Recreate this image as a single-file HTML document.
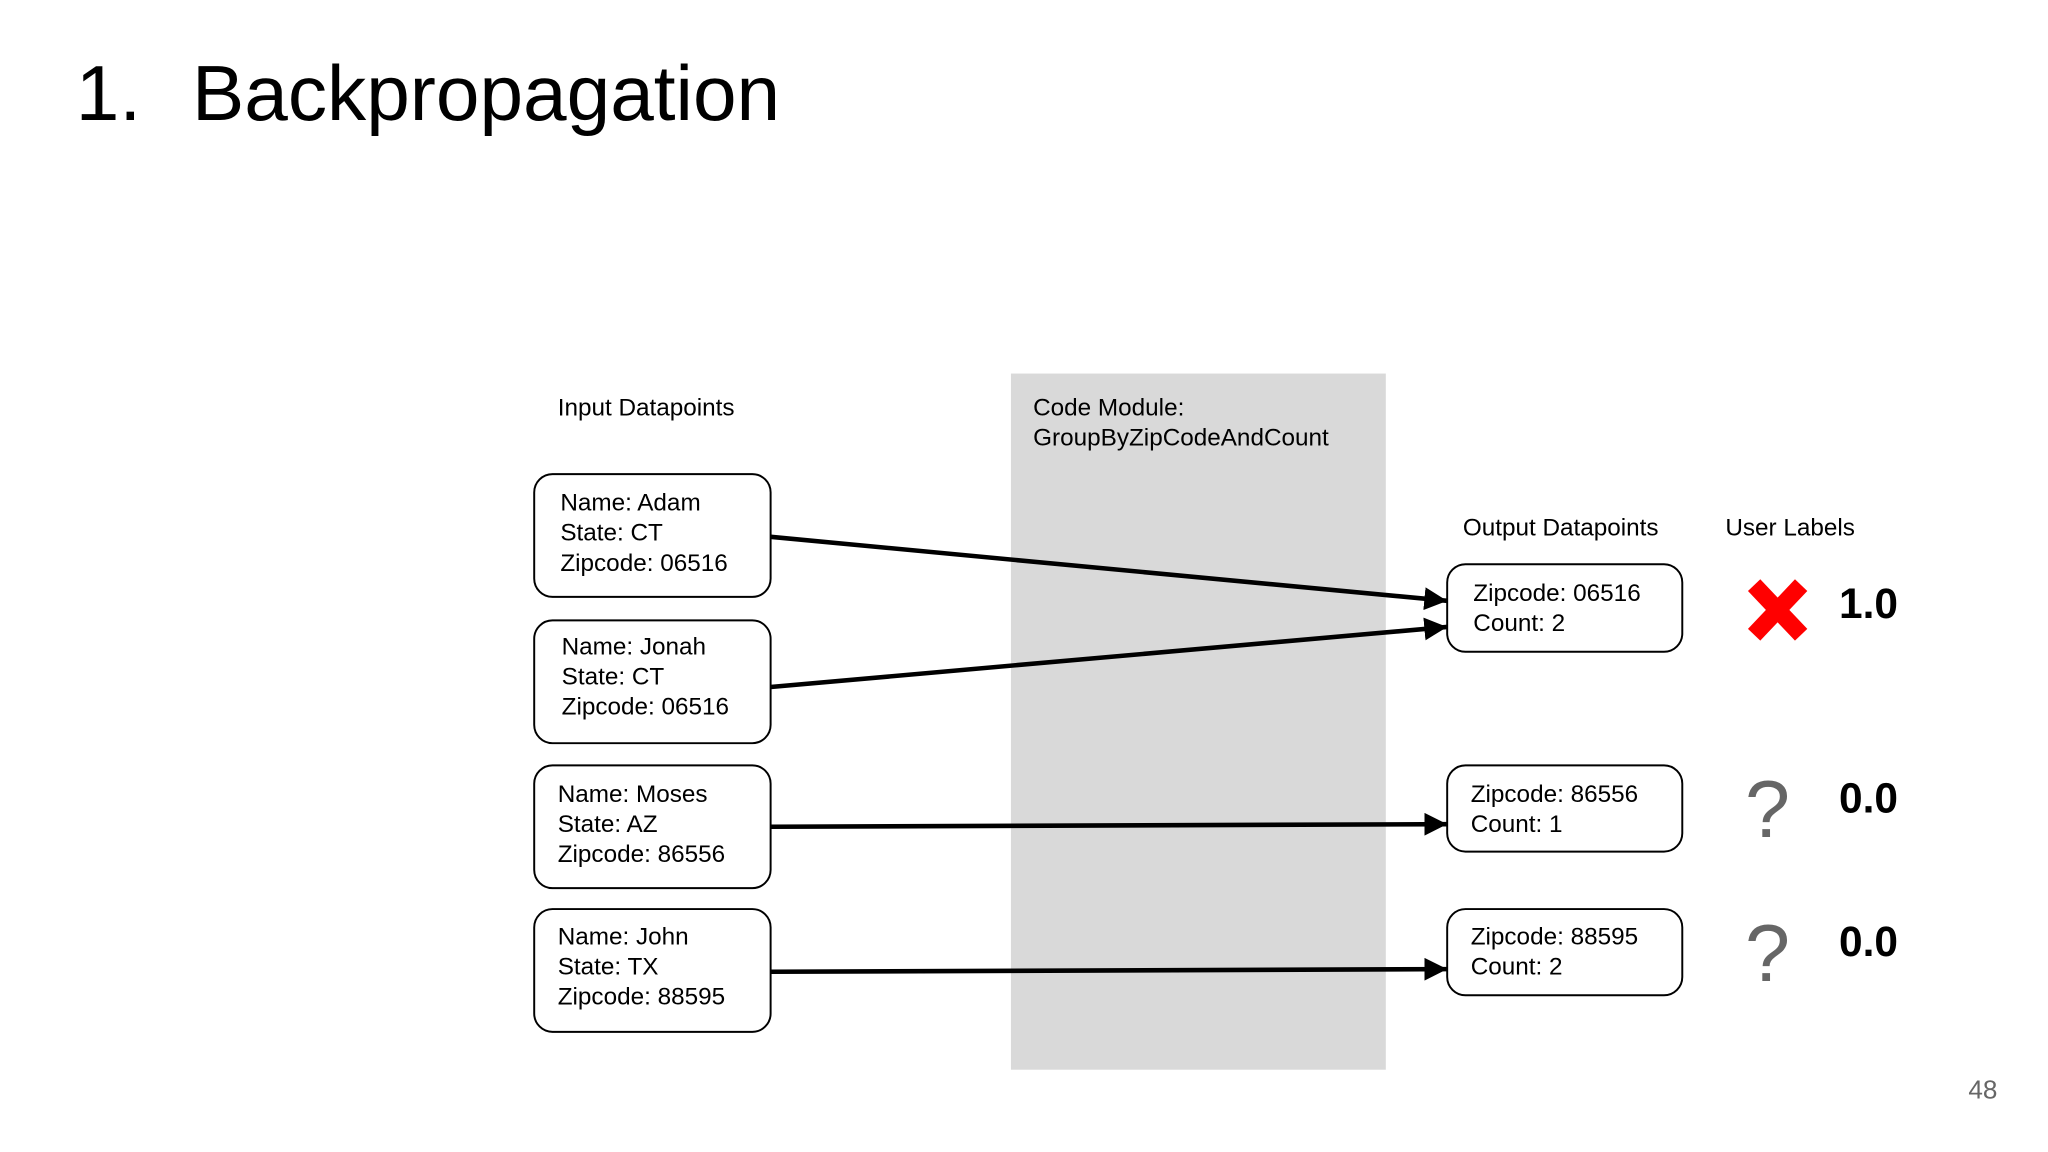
<!DOCTYPE html>
<html><head><meta charset="utf-8"><style>
html,body{margin:0;padding:0;background:#fff;}
svg{display:block;}
text{font-family:"Liberation Sans",Arial,sans-serif;}
</style></head><body>
<svg width="2048" height="1152" viewBox="0 0 1568 882" xmlns="http://www.w3.org/2000/svg">
<defs>
<marker id="ah" markerWidth="5" markerHeight="5" refX="5" refY="2.5" orient="auto" markerUnits="strokeWidth">
<path d="M0,0 L5,2.5 L0,5 z" fill="#000"/>
</marker>
</defs>
<rect width="1568" height="882" fill="#fff"/>
<text x="58" y="92" font-size="60" fill="#000">1.</text>
<text x="147" y="92" font-size="60" fill="#000">Backpropagation</text>

<rect x="774" y="286" width="287" height="533" fill="#d9d9d9"/>
<g font-size="18.6">
<text x="427" y="318">Input Datapoints</text>
<text x="791" y="318">Code Module:</text>
<text x="791" y="341">GroupByZipCodeAndCount</text>
<text x="1120" y="410">Output Datapoints</text>
<text x="1321" y="410">User Labels</text>
</g>

<g fill="#fff" stroke="#000" stroke-width="1.5">
<rect x="409" y="363" width="181" height="94" rx="14"/>
<rect x="409" y="475" width="181" height="94" rx="14"/>
<rect x="409" y="586" width="181" height="94" rx="14"/>
<rect x="409" y="696" width="181" height="94" rx="14"/>
<rect x="1108" y="432" width="180" height="67" rx="14"/>
<rect x="1108" y="586" width="180" height="66" rx="14"/>
<rect x="1108" y="696" width="180" height="66" rx="14"/>
</g>

<g font-size="18.6">
<text x="429" y="391">Name: Adam</text><text x="429" y="414">State: CT</text><text x="429" y="437">Zipcode: 06516</text>
<text x="430" y="501">Name: Jonah</text><text x="430" y="524">State: CT</text><text x="430" y="547">Zipcode: 06516</text>
<text x="427" y="614">Name: Moses</text><text x="427" y="637">State: AZ</text><text x="427" y="660">Zipcode: 86556</text>
<text x="427" y="723">Name: John</text><text x="427" y="746">State: TX</text><text x="427" y="769">Zipcode: 88595</text>
<text x="1128" y="460">Zipcode: 06516</text><text x="1128" y="483">Count: 2</text>
<text x="1126" y="614">Zipcode: 86556</text><text x="1126" y="637">Count: 1</text>
<text x="1126" y="723">Zipcode: 88595</text><text x="1126" y="746">Count: 2</text>
</g>

<g stroke="#000" stroke-width="3.5" marker-end="url(#ah)">
<line x1="590" y1="411" x2="1108" y2="460"/>
<line x1="590" y1="526" x2="1108" y2="480"/>
<line x1="590" y1="633" x2="1108" y2="631"/>
<line x1="590" y1="744" x2="1108" y2="742"/>
</g>

<g stroke="#ff0000" stroke-width="13" stroke-linecap="butt">
<line x1="1343" y1="448" x2="1379" y2="486"/>
<line x1="1379" y1="448" x2="1343" y2="486"/>
</g>
<text x="1408" y="473" font-size="32.5" font-weight="bold">1.0</text>
<text x="1336" y="641" font-size="62" fill="#666">?</text>
<text x="1408" y="622" font-size="32.5" font-weight="bold">0.0</text>
<text x="1336" y="751" font-size="62" fill="#666">?</text>
<text x="1408" y="732" font-size="32.5" font-weight="bold">0.0</text>

<text x="1507" y="841" font-size="20" fill="#666">48</text>
</svg>
</body></html>
